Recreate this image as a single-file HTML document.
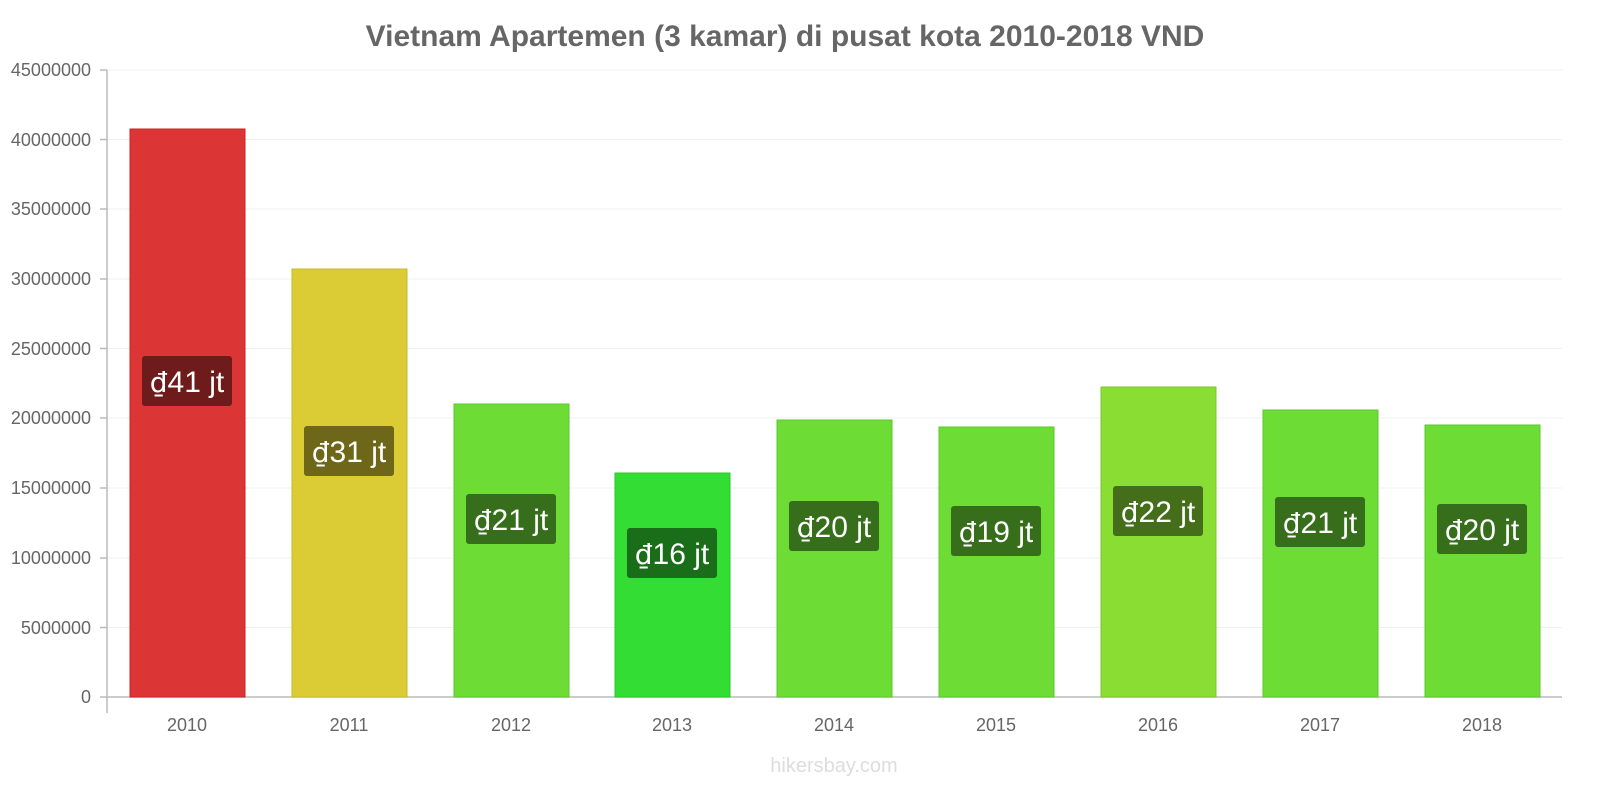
<!DOCTYPE html>
<html><head><meta charset="utf-8"><style>
html,body{margin:0;background:#fff;overflow:hidden;}
svg{display:block;font-family:"Liberation Sans",sans-serif;}
.d{font-family:"DejaVu Sans",sans-serif;font-size:28px;}
</style></head><body>
<svg width="1600" height="800" xmlns="http://www.w3.org/2000/svg">
<text x="785" y="46" text-anchor="middle" font-size="30" font-weight="bold" fill="#666">Vietnam Apartemen (3 kamar) di pusat kota 2010-2018 VND</text>
<g stroke="#f0f0f0" stroke-width="1">
<line x1="107" x2="1562" y1="70" y2="70"/><line x1="107" x2="1562" y1="139.5" y2="139.5"/>
<line x1="107" x2="1562" y1="209" y2="209"/><line x1="107" x2="1562" y1="279" y2="279"/>
<line x1="107" x2="1562" y1="348.5" y2="348.5"/><line x1="107" x2="1562" y1="418" y2="418"/>
<line x1="107" x2="1562" y1="488" y2="488"/><line x1="107" x2="1562" y1="558" y2="558"/>
<line x1="107" x2="1562" y1="627.5" y2="627.5"/>
</g>
<g font-size="18" fill="#666" text-anchor="end">
<text x="91" y="76">45000000</text><text x="91" y="146">40000000</text><text x="91" y="215">35000000</text>
<text x="91" y="285">30000000</text><text x="91" y="355">25000000</text><text x="91" y="424">20000000</text>
<text x="91" y="494">15000000</text><text x="91" y="564">10000000</text><text x="91" y="634">5000000</text>
<text x="91" y="703">0</text>
</g>
<g stroke="#bbb" stroke-width="1.5">
<line x1="107" y1="70" x2="107" y2="713"/>
<line x1="100" y1="697" x2="1562" y2="697"/>
<line x1="100" y1="70" x2="107" y2="70"/><line x1="100" y1="139.5" x2="107" y2="139.5"/>
<line x1="100" y1="209" x2="107" y2="209"/><line x1="100" y1="279" x2="107" y2="279"/>
<line x1="100" y1="348.5" x2="107" y2="348.5"/><line x1="100" y1="418" x2="107" y2="418"/>
<line x1="100" y1="488" x2="107" y2="488"/><line x1="100" y1="558" x2="107" y2="558"/>
<line x1="100" y1="627.5" x2="107" y2="627.5"/>
</g>
<g stroke-width="1">
<rect x="130" y="129" width="115" height="568" fill="#dc3535" stroke="#c22"/>
<rect x="292" y="269" width="115" height="428" fill="#dbcc35" stroke="#c9b92a"/>
<rect x="454" y="404" width="115" height="293" fill="#6ddd35" stroke="#5ac82a"/>
<rect x="615" y="473" width="115" height="224" fill="#33dd33" stroke="#2ac82a"/>
<rect x="777" y="420" width="115" height="277" fill="#6ddd35" stroke="#5ac82a"/>
<rect x="939" y="427" width="115" height="270" fill="#6ddd35" stroke="#5ac82a"/>
<rect x="1101" y="387" width="115" height="310" fill="#8add33" stroke="#78c82a"/>
<rect x="1263" y="410" width="115" height="287" fill="#6ddd35" stroke="#5ac82a"/>
<rect x="1425" y="425" width="115" height="272" fill="#6ddd35" stroke="#5ac82a"/>
</g>
<g font-size="30" fill="#fff" text-anchor="middle">
<rect x="142" y="356" width="90" height="50" rx="3" fill="#6e1b1b"/><text x="187" y="392"><tspan class="d">₫</tspan>41 jt</text>
<rect x="304" y="426" width="90" height="50" rx="3" fill="#6e6619"/><text x="349" y="462"><tspan class="d">₫</tspan>31 jt</text>
<rect x="466" y="494" width="90" height="50" rx="3" fill="#366e1b"/><text x="511" y="530"><tspan class="d">₫</tspan>21 jt</text>
<rect x="627" y="528" width="90" height="50" rx="3" fill="#1a6e1a"/><text x="672" y="564"><tspan class="d">₫</tspan>16 jt</text>
<rect x="789" y="501" width="90" height="50" rx="3" fill="#366e1b"/><text x="834" y="537"><tspan class="d">₫</tspan>20 jt</text>
<rect x="951" y="506" width="90" height="50" rx="3" fill="#366e1b"/><text x="996" y="542"><tspan class="d">₫</tspan>19 jt</text>
<rect x="1113" y="486" width="90" height="50" rx="3" fill="#456e1a"/><text x="1158" y="522"><tspan class="d">₫</tspan>22 jt</text>
<rect x="1275" y="497" width="90" height="50" rx="3" fill="#366e1b"/><text x="1320" y="533"><tspan class="d">₫</tspan>21 jt</text>
<rect x="1437" y="504" width="90" height="50" rx="3" fill="#366e1b"/><text x="1482" y="540"><tspan class="d">₫</tspan>20 jt</text>
</g>
<g font-size="18" fill="#666" text-anchor="middle">
<text x="187" y="731">2010</text><text x="349" y="731">2011</text><text x="511" y="731">2012</text>
<text x="672" y="731">2013</text><text x="834" y="731">2014</text><text x="996" y="731">2015</text>
<text x="1158" y="731">2016</text><text x="1320" y="731">2017</text><text x="1482" y="731">2018</text>
</g>
<text x="834" y="772" text-anchor="middle" font-size="20" fill="#ddd">hikersbay.com</text>
</svg>
</body></html>
